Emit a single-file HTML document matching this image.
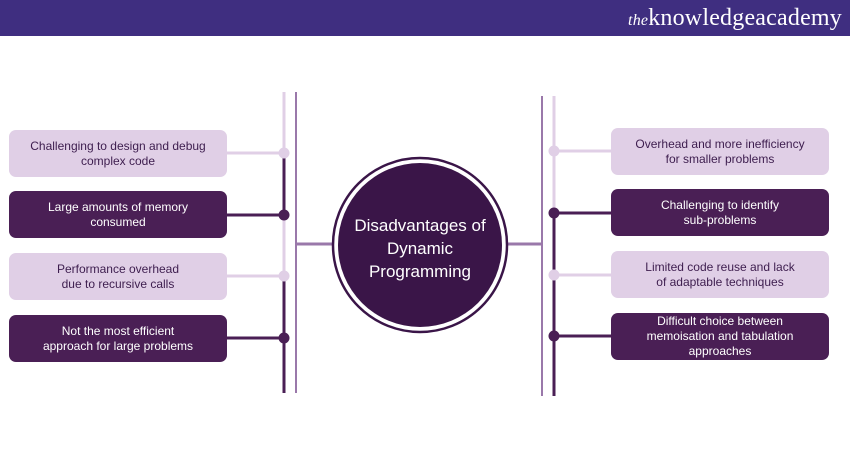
<!DOCTYPE html>
<html><head><meta charset="utf-8"><style>
body{margin:0;width:850px;height:450px;background:#fff;overflow:hidden;font-family:"Liberation Sans",sans-serif;position:relative}
.hdr{position:absolute;left:0;top:0;width:850px;height:36px;background:#3f2e80}
.logo{position:absolute;right:8px;top:5px;color:#fff;font-family:"Liberation Serif",serif;font-size:24px;letter-spacing:0.2px}
.logo i{font-size:16px}
.box{position:absolute;width:218px;height:47px;border-radius:7px;display:flex;align-items:center;justify-content:center;text-align:center;font-size:12px;line-height:15px}
.l{background:#e0cfe6;color:#3d1d4e}
.d{background:#4a1f55;color:#fff}
</style></head><body>
<div class="hdr"><div class="logo"><i>the</i>knowledgeacademy</div></div>
<svg width="850" height="450" style="position:absolute;left:0;top:0">
<line x1="296" y1="92" x2="296" y2="393" stroke="#9a78aa" stroke-width="2"/>
<line x1="296" y1="244" x2="334" y2="244" stroke="#9a78aa" stroke-width="3"/>
<line x1="284" y1="92" x2="284" y2="153" stroke="#e0cfe6" stroke-width="3"/>
<line x1="284" y1="153" x2="284" y2="215" stroke="#4a1f55" stroke-width="3"/>
<line x1="284" y1="215" x2="284" y2="276" stroke="#e0cfe6" stroke-width="3"/>
<line x1="284" y1="276" x2="284" y2="393" stroke="#4a1f55" stroke-width="3"/>
<line x1="227" y1="153" x2="284" y2="153" stroke="#e0cfe6" stroke-width="3"/>
<line x1="227" y1="215" x2="284" y2="215" stroke="#4a1f55" stroke-width="3"/>
<line x1="227" y1="276" x2="284" y2="276" stroke="#e0cfe6" stroke-width="3"/>
<line x1="227" y1="338" x2="284" y2="338" stroke="#4a1f55" stroke-width="3"/>
<circle cx="284" cy="153" r="5.5" fill="#e0cfe6"/><circle cx="284" cy="215" r="5.5" fill="#4a1f55"/>
<circle cx="284" cy="276" r="5.5" fill="#e0cfe6"/><circle cx="284" cy="338" r="5.5" fill="#4a1f55"/>
<line x1="542" y1="96" x2="542" y2="396" stroke="#9a78aa" stroke-width="2"/>
<line x1="506" y1="244" x2="542" y2="244" stroke="#9a78aa" stroke-width="3"/>
<line x1="554" y1="96" x2="554" y2="213" stroke="#e0cfe6" stroke-width="3"/>
<line x1="554" y1="213" x2="554" y2="275" stroke="#4a1f55" stroke-width="3"/>
<line x1="554" y1="275" x2="554" y2="396" stroke="#4a1f55" stroke-width="3"/>
<line x1="554" y1="151" x2="611" y2="151" stroke="#e0cfe6" stroke-width="3"/>
<line x1="554" y1="213" x2="611" y2="213" stroke="#4a1f55" stroke-width="3"/>
<line x1="554" y1="275" x2="611" y2="275" stroke="#e0cfe6" stroke-width="3"/>
<line x1="554" y1="336" x2="611" y2="336" stroke="#4a1f55" stroke-width="3"/>
<circle cx="554" cy="151" r="5.5" fill="#e0cfe6"/><circle cx="554" cy="213" r="5.5" fill="#4a1f55"/>
<circle cx="554" cy="275" r="5.5" fill="#e0cfe6"/><circle cx="554" cy="336" r="5.5" fill="#4a1f55"/>
<circle cx="420" cy="245" r="87" fill="#fff" stroke="#3a1548" stroke-width="2.5"/>
<circle cx="420" cy="245" r="82" fill="#3a1548"/>
<text x="420" y="231" fill="#fff" font-size="17" text-anchor="middle" font-family="Liberation Sans,sans-serif">Disadvantages of</text>
<text x="420" y="254" fill="#fff" font-size="17" text-anchor="middle" font-family="Liberation Sans,sans-serif">Dynamic</text>
<text x="420" y="277" fill="#fff" font-size="17" text-anchor="middle" font-family="Liberation Sans,sans-serif">Programming</text>
</svg>
<div class="box l" style="left:9px;top:130px">Challenging to design and debug<br>complex code</div>
<div class="box d" style="left:9px;top:191px">Large amounts of memory<br>consumed</div>
<div class="box l" style="left:9px;top:253px">Performance overhead<br>due to recursive calls</div>
<div class="box d" style="left:9px;top:315px">Not the most efficient<br>approach for large problems</div>
<div class="box l" style="left:611px;top:128px">Overhead and more inefficiency<br>for smaller problems</div>
<div class="box d" style="left:611px;top:189px">Challenging to identify<br>sub-problems</div>
<div class="box l" style="left:611px;top:251px">Limited code reuse and lack<br>of adaptable techniques</div>
<div class="box d" style="left:611px;top:313px">Difficult choice between<br>memoisation and tabulation<br>approaches</div>
</body></html>
